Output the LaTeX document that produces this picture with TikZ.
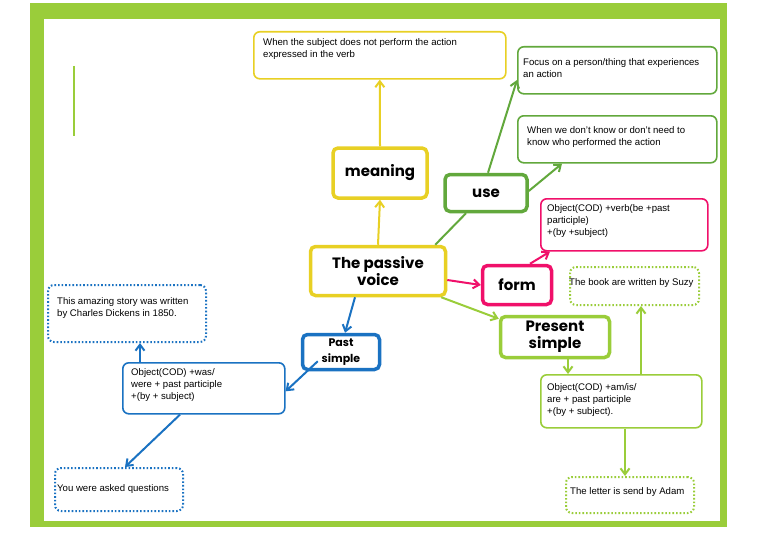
\documentclass[tikz,border=0pt]{standalone}
\usepackage{fontspec}
\setmainfont{Liberation Sans}
\newfontfamily\bfam{Poppins}
\usetikzlibrary{arrows.meta}
\definecolor{yel}{HTML}{E8D024}
\definecolor{dgr}{HTML}{62A83C}
\definecolor{pnk}{HTML}{F0106A}
\definecolor{lgr}{HTML}{9ACD3A}
\definecolor{blu}{HTML}{1A72C2}
\begin{document}
\begin{tikzpicture}[x=1pt,y=-1pt,
 big/.style={draw,line width=3.5pt,rounded corners=5pt,align=center,font=\bfam\bfseries\fontsize{15}{17}\selectfont,inner sep=0pt},
 sm/.style={draw,line width=1.6pt,rounded corners=6pt,align=left,anchor=north west,inner sep=0pt},
 dot/.style={sm,dotted,line width=2pt},
 tx/.style={anchor=north west,font=\fontsize{9.6}{12}\selectfont,align=left,inner sep=0pt},
 ar/.style={line width=2pt,-{Straight Barb[length=6pt,width=9pt]}}]
\useasboundingbox (0,0) rectangle (768,543);
\fill[lgr] (30,3) rectangle (727,527);
\fill[white] (44,19) rectangle (720,521);
\draw[lgr,line width=1.2pt] (74,66) -- (74,136);
\node[big,yel,minimum width=94pt,minimum height=50pt,text=black] (mean) at (380,173) {meaning};
\node[sm,yel,minimum width=252pt,minimum height=47pt] (def) at (253,31) {};
\node[tx] at (263,38) {When the subject does not perform the action\\expressed in the verb};
\node[big,dgr,minimum width=82pt,minimum height=37pt,text=black] (use) at (486,193) {use};
\node[sm,dgr,minimum width=199pt,minimum height=47pt] (foc) at (517,46) {};
\node[tx] at (523,58) {Focus on a person/thing that experiences\\an action};
\node[sm,dgr,minimum width=199pt,minimum height=47pt] (dk) at (517,115) {};
\node[tx] at (527,126) {When we don't know or don't need to\\know who performed the action};
\node[big,yel,minimum width=135pt,minimum height=49pt,text=black] (pv) at (378,271) {The passive\\voice};
\node[big,pnk,minimum width=69pt,minimum height=39pt,text=black] (form) at (517,285) {form};
\node[sm,pnk,minimum width=167pt,minimum height=52pt] (fbox) at (540,198) {};
\node[tx] at (547,204) {Object(COD) +verb(be +past\\participle)\\+(by +subject)};
\node[dot,lgr,minimum width=129pt,minimum height=38pt] (book) at (569,266) {};
\node[tx] at (569,278) {The book are written by Suzy};
\node[big,lgr,minimum width=109pt,minimum height=41pt,text=black] (ps) at (555,337) {Present\\simple};
\node[sm,lgr,minimum width=161pt,minimum height=53pt] (psb) at (540,374) {};
\node[tx] at (547,383) {Object(COD) +am/is/\\are + past participle\\+(by + subject).};
\node[dot,lgr,minimum width=128pt,minimum height=36pt] (let) at (565,476) {};
\node[tx] at (570,487) {The letter is send by Adam};
\node[big,blu,minimum width=77pt,minimum height=35pt,text=black,font=\bfam\bfseries\fontsize{11}{16}\selectfont] (past) at (341,352) {Past\\simple};
\node[sm,blu,minimum width=162pt,minimum height=51pt] (pb) at (122,362) {};
\node[tx] at (131,368) {Object(COD) +was/\\were + past participle\\+(by + subject)};
\node[dot,blu,minimum width=158pt,minimum height=57pt] (story) at (47,284) {};
\node[tx] at (57,297) {This amazing story was written\\by Charles Dickens in 1850.};
\node[dot,blu,minimum width=128pt,minimum height=43pt] (ask) at (54,467) {};
\node[tx] at (57,484) {You were asked questions};
% arrows
\draw[ar,yel] (mean.north) -- (def.south);
\draw[ar,yel] (pv.north) -- (mean.south);
\draw[line width=2pt,dgr] ([xshift=-12pt]pv.north east) -- ([xshift=-20pt]use.south);
\draw[ar,dgr] ([xshift=2pt]use.north) -- ([yshift=-34pt]foc.north west);
\draw[ar,dgr] ([yshift=2pt]use.east) -- ([xshift=45pt]dk.south west);
\draw[ar,pnk] ([yshift=-9pt]pv.east) -- (form.west);
\draw[ar,pnk] ([xshift=13pt]form.north) -- ([xshift=10pt]fbox.south west);
\draw[ar,lgr] ([xshift=-6pt]pv.south east) -- ([yshift=-4pt]ps.north west);
\draw[ar,lgr] ([xshift=13pt]ps.south) -- ([xshift=28pt]psb.north west);
\draw[ar,lgr] ([xshift=101pt]psb.north west) -- ([xshift=72pt]book.south west);
\draw[ar,lgr] ([xshift=85pt]psb.south west) -- ([xshift=60pt]let.north west);
\draw[ar,blu] ([xshift=-23pt]pv.south) -- ([xshift=4pt]past.north);
\draw[ar,blu] ([xshift=17pt,yshift=10pt]past.south west) -- ([yshift=-3pt]pb.east);
\draw[ar,blu] ([xshift=18pt]pb.north west) -- ([xshift=93pt]story.south west);
\draw[ar,blu] ([xshift=58pt]pb.south west) -- ([xshift=71pt]ask.north west);
\end{tikzpicture}
\end{document}
